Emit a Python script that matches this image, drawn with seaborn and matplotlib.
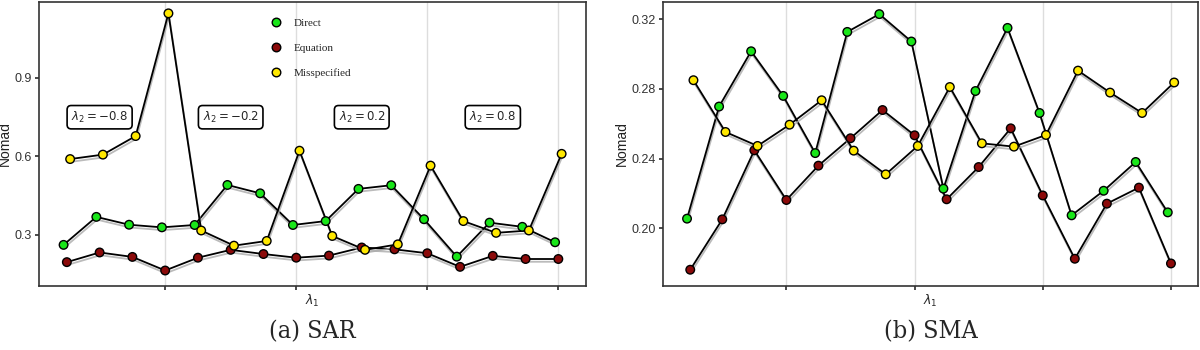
import matplotlib
matplotlib.use("Agg")
import matplotlib.pyplot as plt
import matplotlib.patheffects as pe
import seaborn as sns
import pandas as pd

# x positions (lambda_1 within each lambda_2 block)
steps = list(range(1, 17))
methods = ["Direct", "Equation", "Misspecified"]
colors = {"Direct": "#19e619", "Equation": "#8b0a0a", "Misspecified": "#ffe800"}
dodge = {"Direct": -0.1, "Equation": 0.0, "Misspecified": 0.1}

# SAR panel
sar_direct = [0.262, 0.369, 0.339, 0.329, 0.338, 0.491, 0.459, 0.338,
              0.353, 0.476, 0.490, 0.360, 0.217, 0.347, 0.331, 0.272]
sar_equation = [0.196, 0.233, 0.216, 0.164, 0.213, 0.243, 0.227, 0.213,
                0.221, 0.252, 0.245, 0.230, 0.178, 0.220, 0.208, 0.208]
sar_misspec = [0.590, 0.607, 0.678, 1.147, 0.317, 0.259, 0.277, 0.622,
               0.296, 0.243, 0.264, 0.565, 0.353, 0.308, 0.317, 0.610]

# SMA panel
sma_direct = [0.2056, 0.2699, 0.3016, 0.2760, 0.2432, 0.3127, 0.3229, 0.3072,
              0.2228, 0.2788, 0.3150, 0.2662, 0.2075, 0.2216, 0.2381, 0.2092]
sma_equation = [0.1763, 0.2052, 0.2448, 0.2163, 0.2360, 0.2517, 0.2679, 0.2534,
                0.2167, 0.2352, 0.2574, 0.2189, 0.1826, 0.2142, 0.2234, 0.1799]
sma_misspec = [0.2850, 0.2553, 0.2473, 0.2595, 0.2735, 0.2446, 0.2310, 0.2473,
               0.2811, 0.2488, 0.2469, 0.2536, 0.2905, 0.2779, 0.2662, 0.2837]

block_labels = ["$\\lambda_2 = -0.8$", "$\\lambda_2 = -0.2$",
                "$\\lambda_2 = 0.2$", "$\\lambda_2 = 0.8$"]
block_centers = [2, 6, 10, 14]


def make_df(direct, equation, misspec):
    rows = []
    for name, vals in zip(methods, [direct, equation, misspec]):
        for s, v in zip(steps, vals):
            rows.append({"step": s + dodge[name], "Nomad": v, "method": name})
    return pd.DataFrame(rows)


def draw_panel(ax, df, yticks, ylim, legend=False):
    shadow = [pe.SimpleLineShadow(offset=(0.5, -2), shadow_color="#aaaaaa", alpha=0.8),
              pe.Normal()]
    sns.lineplot(data=df, x="step", y="Nomad", units="method", estimator=None,
                 color="black", linewidth=1.3, ax=ax, path_effects=shadow,
                 legend=False, sort=True)
    sns.scatterplot(data=df, x="step", y="Nomad", hue="method", palette=colors,
                    hue_order=methods, s=38, edgecolor="black", linewidth=1.0,
                    ax=ax, zorder=5, legend=legend)
    ax.set_xlim(0.15, 16.85)
    ax.set_ylim(*ylim)
    ax.set_xticks([4, 8, 12, 16])
    ax.set_xticklabels([])
    ax.set_yticks(yticks)
    ax.grid(axis="x", color="#dddddd", linewidth=1.0)
    ax.grid(axis="y", visible=False)
    ax.set_axisbelow(True)
    ax.set_xlabel("$\\lambda_1$", fontsize=9, labelpad=0)
    ax.set_ylabel("Nomad", fontsize=10, color="#222222", labelpad=2)
    ax.tick_params(axis="both", colors="#333333", labelsize=9, length=3, pad=2)
    for sp in ax.spines.values():
        sp.set_color("#333333")
        sp.set_linewidth(1.2)


sns.set_theme(style="ticks")
plt.rcParams["font.family"] = ["Liberation Sans", "DejaVu Sans"]

fig = plt.figure(figsize=(12, 3.5), dpi=100)
ax1 = fig.add_axes([0.0325, 0.183, 0.456, 0.811])
ax2 = fig.add_axes([0.5525, 0.183, 0.446, 0.811])

draw_panel(ax1, make_df(sar_direct, sar_equation, sar_misspec),
           [0.3, 0.6, 0.9], (0.105, 1.19), legend=True)
draw_panel(ax2, make_df(sma_direct, sma_equation, sma_misspec),
           [0.20, 0.24, 0.28, 0.32], (0.167, 0.3298))
ax1.set_yticklabels(["0.3", "0.6", "0.9"])
ax2.set_yticklabels(["0.20", "0.24", "0.28", "0.32"])

for lab, cx in zip(block_labels, block_centers):
    ax1.text(cx, 0.75, lab, ha="center", va="center", fontsize=8.5,
             bbox=dict(boxstyle="round,pad=0.35", fc="white", ec="black", lw=1.2))

leg = ax1.legend(loc="upper left", bbox_to_anchor=(0.395, 0.98), frameon=False,
                 prop={"family": "Liberation Serif", "size": 8}, labelspacing=1.4,
                 handletextpad=0.6, title=None)

fig.text(0.26, 0.02, "(a) SAR", ha="center", va="bottom", fontsize=18,
         family="DejaVu Serif", fontstretch="condensed")
fig.text(0.776, 0.02, "(b) SMA", ha="center", va="bottom", fontsize=18,
         family="DejaVu Serif", fontstretch="condensed")

fig.savefig("out.png", dpi=100)
